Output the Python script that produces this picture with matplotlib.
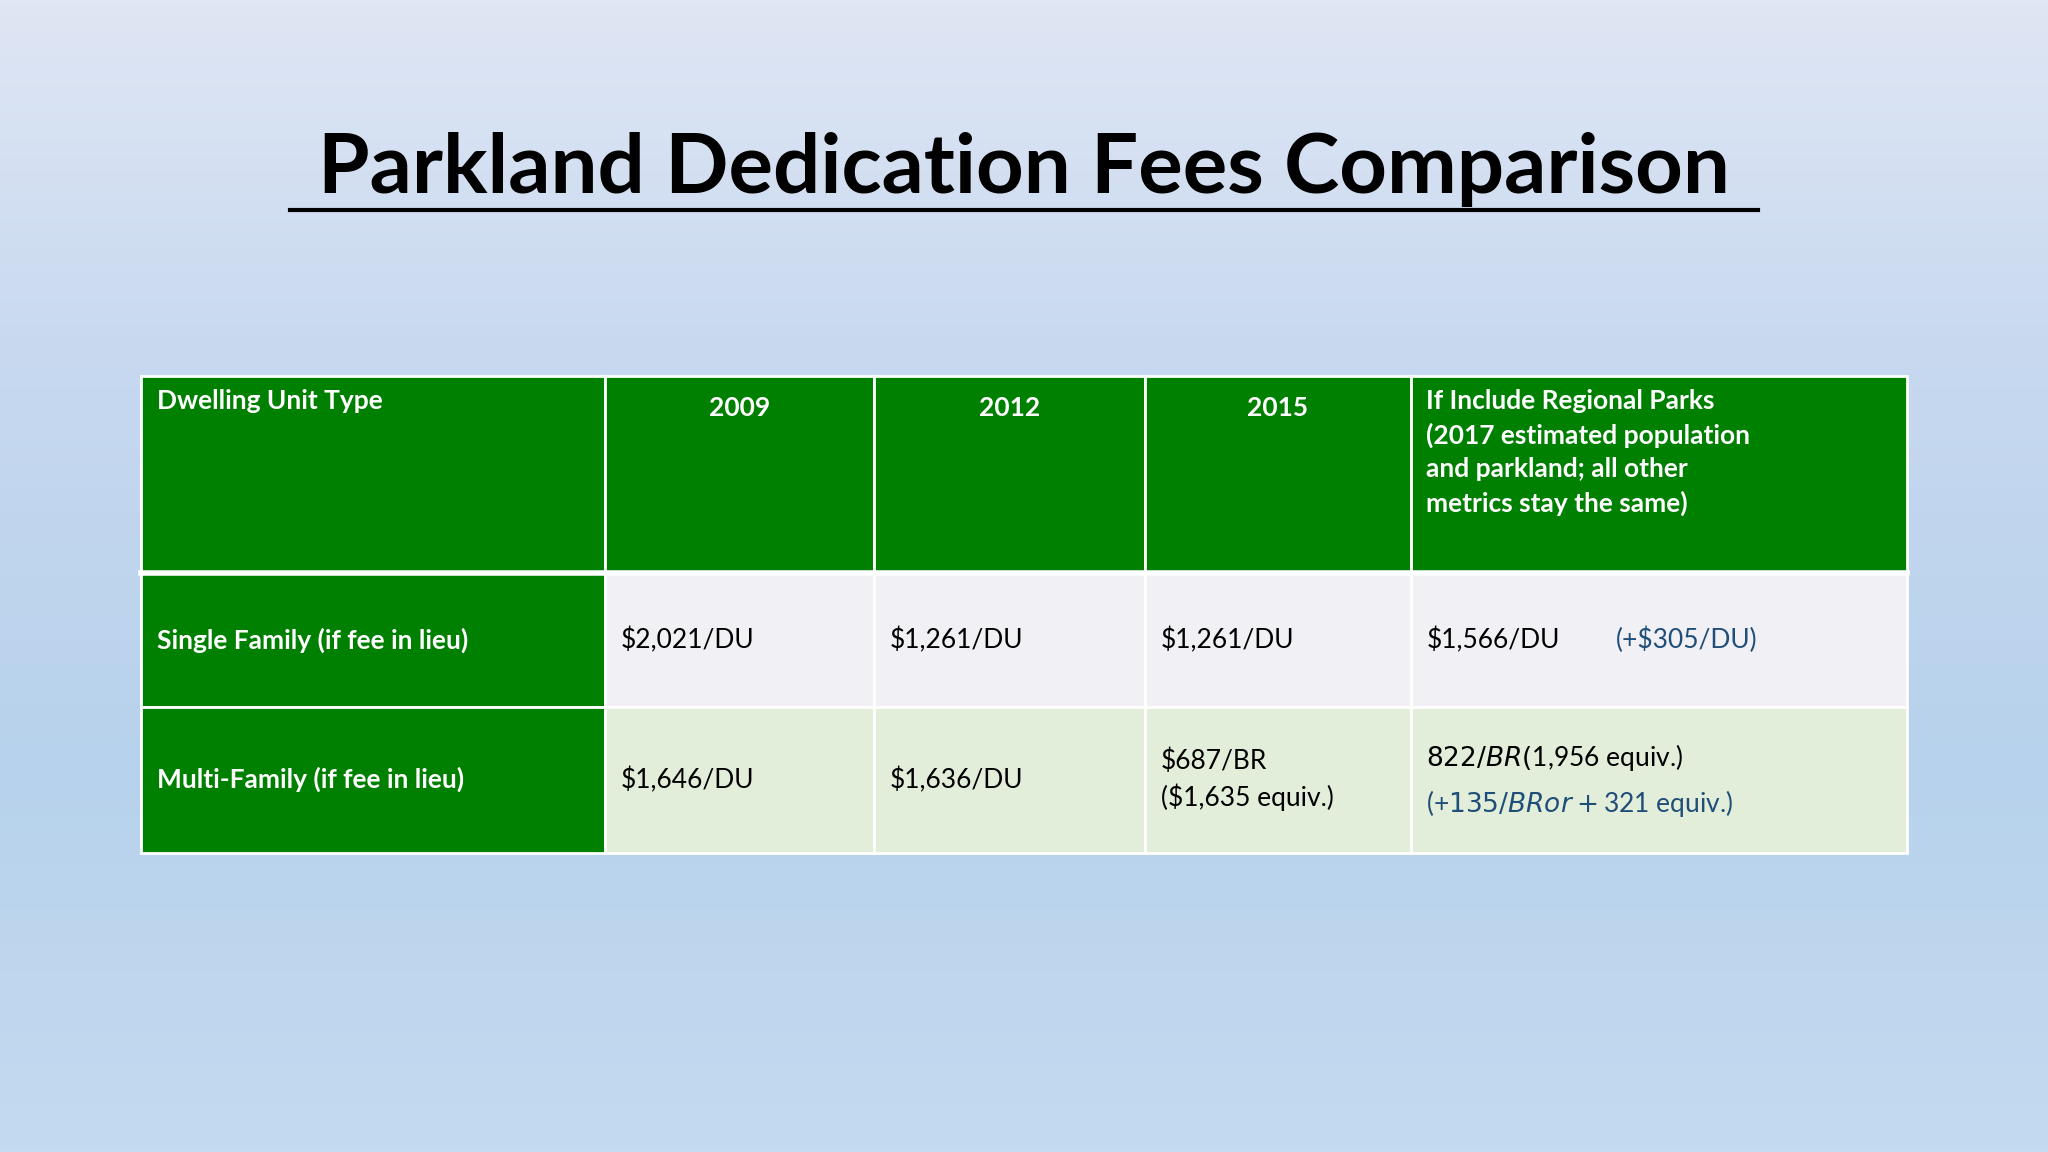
import numpy as np
import matplotlib
matplotlib.use("Agg")
import matplotlib.pyplot as plt
from matplotlib.patches import Rectangle
from matplotlib.colors import LinearSegmentedColormap

TITLE = "Parkland Dedication Fees Comparison"
HEADERS = ["Dwelling Unit Type", "2009", "2012", "2015",
           "If Include Regional Parks\n(2017 estimated population\nand parkland; all other\nmetrics stay the same)"]
ROW_LABELS = ["Single Family (if fee in lieu)", "Multi-Family (if fee in lieu)"]
ROW_2009 = ["$2,021/DU", "$1,646/DU"]
ROW_2012 = ["$1,261/DU", "$1,636/DU"]
ROW_2015 = ["$1,261/DU", "$687/BR\n($1,635 equiv.)"]
ROW_REG = ["$1,566/DU", "$822/BR ($1,956 equiv.)"]
ROW_REG_DELTA = ["(+$305/DU)", "(+$135/BR or +$321 equiv.)"]

W, H = 1568, 882  # reference layout units
plt.rcParams["font.family"] = ["Lato", "DejaVu Sans"]

fig = plt.figure(figsize=(20.48, 11.52), dpi=100)
ax = fig.add_axes([0, 0, 1, 1])
ax.set_xlim(0, W)
ax.set_ylim(H, 0)
ax.axis("off")

# background gradient
cmap = LinearSegmentedColormap.from_list("bg", ["#dfe6f4", "#c6d8ef", "#b7d2ec", "#c4daf0"])
grad = np.linspace(0, 1, 256).reshape(-1, 1)
ax.imshow(grad, cmap=cmap, extent=[0, W, H, 0], aspect="auto", zorder=0)

# title
ax.text(784, 130, TITLE, ha="center", va="center", fontsize=60,
        fontweight="bold", color="black", zorder=3)
ax.plot([222, 1346], [161, 161], color="black", lw=3, zorder=3)

GREEN = "#008000"
cols = [108, 463, 669, 877, 1080, 1460]
rows = [288, 439, 541, 653]
fills = ["#f0f0f5", "#e2eed9"]
fs = 19

def cell(x0, x1, y0, y1, color):
    ax.add_patch(Rectangle((x0, y0), x1 - x0, y1 - y0, facecolor=color,
                           edgecolor="white", lw=2, zorder=2))

# header
for i, h in enumerate(HEADERS):
    cell(cols[i], cols[i + 1], rows[0], rows[1], GREEN)
    if i in (1, 2, 3):
        ax.text((cols[i] + cols[i + 1]) / 2, 312, h, ha="center", va="center",
                fontsize=fs, fontweight="bold", color="white", zorder=3)
    else:
        ax.text(cols[i] + 12, 298, h, ha="left", va="top", fontsize=fs,
                fontweight="bold", color="white", linespacing=1.45, zorder=3)
ax.plot([cols[0], cols[-1]], [rows[1], rows[1]], color="white", lw=4, zorder=3)

for r in range(2):
    y0, y1 = rows[r + 1], rows[r + 2]
    yc = (y0 + y1) / 2
    cell(cols[0], cols[1], y0, y1, GREEN)
    ax.text(cols[0] + 12, yc, ROW_LABELS[r], ha="left", va="center",
            fontsize=fs, fontweight="bold", color="white", zorder=3)
    for c, vals in enumerate([ROW_2009, ROW_2012, ROW_2015], start=1):
        cell(cols[c], cols[c + 1], y0, y1, fills[r])
        ax.text(cols[c] + 12, yc, vals[r], ha="left", va="center",
                fontsize=fs, color="black", linespacing=1.45, zorder=3)
    cell(cols[4], cols[5], y0, y1, fills[r])
    if r == 0:
        t = ax.text(cols[4] + 12, yc, ROW_REG[r], ha="left", va="center",
                    fontsize=fs, color="black", zorder=3)
        ax.text(1237, yc, ROW_REG_DELTA[r], ha="left", va="center",
                fontsize=fs, color="#1f4e79", zorder=3)
    else:
        ax.text(cols[4] + 12, yc - 17, ROW_REG[r], ha="left", va="center",
                fontsize=fs, color="black", zorder=3)
        ax.text(cols[4] + 12, yc + 18, ROW_REG_DELTA[r], ha="left", va="center",
                fontsize=fs, color="#1f4e79", zorder=3)

fig.savefig("out.png", dpi=100)
